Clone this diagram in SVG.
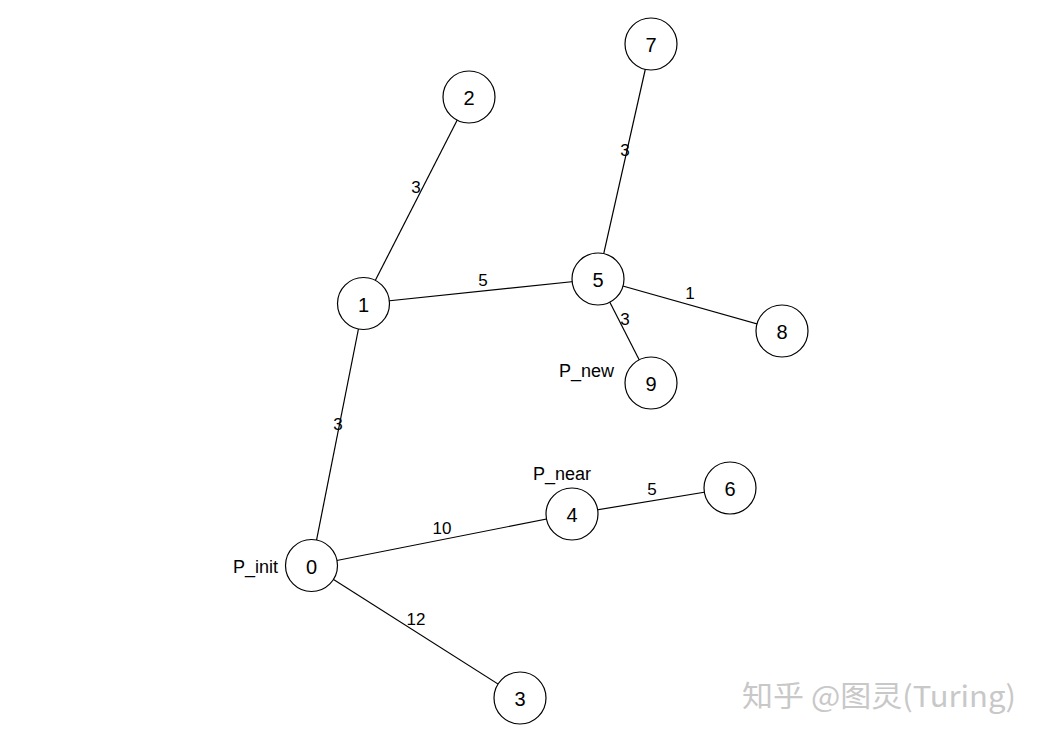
<svg xmlns="http://www.w3.org/2000/svg" width="1044" height="743" viewBox="0 0 1044 743">
<style>
.n circle{fill:#fff;stroke:#000;stroke-width:1.2}
.n text{font-family:"Liberation Sans",Arial,sans-serif;font-size:20px;fill:#000;text-anchor:middle;dominant-baseline:central}
.e line{stroke:#000;stroke-width:1.2}
.el{font-family:"Liberation Sans",Arial,sans-serif;font-size:17px;fill:#000;text-anchor:middle;dominant-baseline:central}
.lb{font-family:"Liberation Sans",Arial,sans-serif;font-size:18px;fill:#000}
.wm{font-family:"Noto Sans CJK SC","Liberation Sans",sans-serif;font-size:29px;fill:#c8c8c8}
</style>
<rect width="1044" height="743" fill="#fff"/>
<g id="edges" class="e">
<line x1="311.5" y1="565.5" x2="363.5" y2="303.5"/>
<line x1="363.5" y1="303.5" x2="469" y2="97"/>
<line x1="363.5" y1="303.5" x2="598" y2="279"/>
<line x1="598" y1="279" x2="651" y2="44"/>
<line x1="598" y1="279" x2="782" y2="331"/>
<line x1="598" y1="279" x2="651" y2="383"/>
<line x1="311.5" y1="565.5" x2="572" y2="514"/>
<line x1="572" y1="514" x2="730" y2="488"/>
<line x1="311.5" y1="565.5" x2="520" y2="698"/>
</g>
<g id="edge-labels">
<text class="el" x="338" y="424">3</text>
<text class="el" x="416" y="187">3</text>
<text class="el" x="483" y="280">5</text>
<text class="el" x="625" y="150">3</text>
<text class="el" x="690" y="293">1</text>
<text class="el" x="625" y="319">3</text>
<text class="el" x="442" y="528">10</text>
<text class="el" x="652" y="489">5</text>
<text class="el" x="416" y="619">12</text>
</g>
<g id="node0" class="n"><circle cx="311.5" cy="565.5" r="26"/><text x="311.5" y="567">0</text></g>
<g id="node1" class="n"><circle cx="363.5" cy="303.5" r="26"/><text x="363.5" y="305">1</text></g>
<g id="node2" class="n"><circle cx="469" cy="97" r="26"/><text x="469" y="98">2</text></g>
<g id="node3" class="n"><circle cx="520" cy="698" r="26"/><text x="520" y="699">3</text></g>
<g id="node4" class="n"><circle cx="572" cy="514" r="26"/><text x="572" y="515">4</text></g>
<g id="node5" class="n"><circle cx="598" cy="279" r="26"/><text x="598" y="280">5</text></g>
<g id="node6" class="n"><circle cx="730" cy="488" r="26"/><text x="730" y="489">6</text></g>
<g id="node7" class="n"><circle cx="651" cy="44" r="26"/><text x="651" y="45">7</text></g>
<g id="node8" class="n"><circle cx="782" cy="331" r="26"/><text x="782" y="332">8</text></g>
<g id="node9" class="n"><circle cx="651" cy="383" r="26"/><text x="651" y="384">9</text></g>
<g id="labels">
<text class="lb" x="233" y="573">P_init</text>
<text class="lb" x="559" y="377">P_new</text>
<text class="lb" x="533" y="480">P_near</text>
</g>
<text class="wm" x="742" y="707" textLength="274" lengthAdjust="spacingAndGlyphs">知乎 @图灵(Turing)</text>
</svg>
